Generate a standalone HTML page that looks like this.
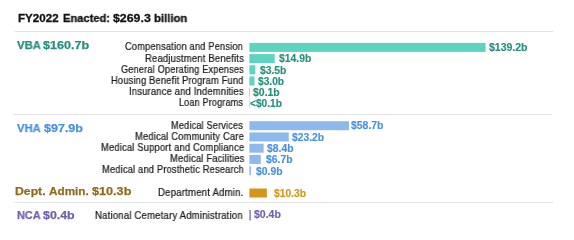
<!DOCTYPE html>
<html><head><meta charset="utf-8"><style>
html,body{margin:0;padding:0;background:#fff;}
body{width:574px;height:235px;position:relative;overflow:hidden;font-family:"Liberation Sans",sans-serif;}
.t{position:absolute;white-space:nowrap;transform-origin:0 0;will-change:transform;}
.r{position:absolute;}
</style></head><body>
<svg class="r" width="574" height="235" viewBox="0 0 574 235" style="left:0;top:0">
<rect x="14.60" y="31.00" width="538.60" height="1.00" fill="#e3e3e3"/>
<rect x="13.50" y="114.00" width="538.60" height="1.00" fill="#e3e3e3"/>
<rect x="14.60" y="202.00" width="538.60" height="1.00" fill="#e3e3e3"/>
<rect x="249.40" y="42.90" width="236.22" height="9.00" fill="#5ed3bf"/>
<rect x="249.40" y="54.10" width="25.29" height="9.00" fill="#5ed3bf"/>
<rect x="249.40" y="65.30" width="5.94" height="9.00" fill="#5ed3bf"/>
<rect x="249.40" y="76.50" width="5.09" height="9.00" fill="#5ed3bf"/>
<rect x="249.40" y="87.70" width="0.60" height="9.00" fill="#5ed3bf"/>
<rect x="249.40" y="98.90" width="0.40" height="9.00" fill="#5ed3bf"/>
<rect x="249.40" y="121.20" width="99.61" height="9.00" fill="#8fb9ec"/>
<rect x="249.40" y="132.45" width="39.37" height="9.00" fill="#8fb9ec"/>
<rect x="249.40" y="143.70" width="14.25" height="9.00" fill="#8fb9ec"/>
<rect x="249.40" y="154.95" width="11.37" height="9.00" fill="#8fb9ec"/>
<rect x="249.40" y="166.20" width="1.53" height="9.00" fill="#8fb9ec"/>
<rect x="249.40" y="188.50" width="17.48" height="9.00" fill="#d4961a"/>
<rect x="249.50" y="210.00" width="1.20" height="10.40" fill="#6c5cb0"/>
</svg>
<div id="e0" class="t" style="left:18.06px;top:10.98px;font-size:11.6px;line-height:14px;font-weight:700;color:#111111;transform:scaleX(0.9977);-webkit-text-stroke:0.3px #111111;">FY2022</div>
<div id="e1" class="t" style="left:62.86px;top:10.98px;font-size:11.6px;line-height:14px;font-weight:700;color:#111111;transform:scaleX(0.9612);-webkit-text-stroke:0.3px #111111;">Enacted:</div>
<div id="e2" class="t" style="left:112.67px;top:10.98px;font-size:11.6px;line-height:14px;font-weight:700;color:#111111;transform:scaleX(1.0644);-webkit-text-stroke:0.3px #111111;">$269.3</div>
<div id="e3" class="t" style="left:153.73px;top:10.98px;font-size:11.6px;line-height:14px;font-weight:700;color:#111111;transform:scaleX(0.9759);-webkit-text-stroke:0.3px #111111;">billion</div>
<div id="e4" class="t" style="left:16.54px;top:38.38px;font-size:11.6px;line-height:14px;font-weight:700;color:#268f7d;transform:scaleX(0.9789);-webkit-text-stroke:0.25px #268f7d;">VBA</div>
<div id="e5" class="t" style="left:43.30px;top:38.38px;font-size:11.6px;line-height:14px;font-weight:700;color:#268f7d;transform:scaleX(1.0836);-webkit-text-stroke:0.25px #268f7d;">$160.7b</div>
<div id="e6" class="t" style="left:16.76px;top:121.38px;font-size:11.6px;line-height:14px;font-weight:700;color:#4a90e0;transform:scaleX(0.9716);-webkit-text-stroke:0.25px #4a90e0;">VHA</div>
<div id="e7" class="t" style="left:44.11px;top:121.38px;font-size:11.6px;line-height:14px;font-weight:700;color:#4a90e0;transform:scaleX(1.0798);-webkit-text-stroke:0.25px #4a90e0;">$97.9b</div>
<div id="e8" class="t" style="left:14.83px;top:184.08px;font-size:11.6px;line-height:14px;font-weight:700;color:#8f6b1d;transform:scaleX(1.0552);-webkit-text-stroke:0.25px #8f6b1d;">Dept.</div>
<div id="e9" class="t" style="left:48.87px;top:184.08px;font-size:11.6px;line-height:14px;font-weight:700;color:#8f6b1d;transform:scaleX(1.0111);-webkit-text-stroke:0.25px #8f6b1d;">Admin.</div>
<div id="e10" class="t" style="left:91.89px;top:184.08px;font-size:11.6px;line-height:14px;font-weight:700;color:#8f6b1d;transform:scaleX(1.0903);-webkit-text-stroke:0.25px #8f6b1d;">$10.3b</div>
<div id="e11" class="t" style="left:16.54px;top:207.58px;font-size:11.6px;line-height:14px;font-weight:700;color:#6f60ae;transform:scaleX(0.9421);-webkit-text-stroke:0.25px #6f60ae;">NCA</div>
<div id="e12" class="t" style="left:43.33px;top:207.58px;font-size:11.6px;line-height:14px;font-weight:700;color:#6f60ae;transform:scaleX(1.0671);-webkit-text-stroke:0.25px #6f60ae;">$0.4b</div>
<div id="e13" class="t" style="left:125.33px;top:40.87px;font-size:10.2px;line-height:12px;color:#1a1a1a;transform:scaleX(0.9086);-webkit-text-stroke:0.22px #1a1a1a;letter-spacing:0.2px;">Compensation and Pension</div>
<div id="e14" class="t" style="left:488.85px;top:41.53px;font-size:10.0px;line-height:12px;font-weight:700;color:#268f7d;transform:scaleX(1.0502);-webkit-text-stroke:0.15px #268f7d;">$139.2b</div>
<div id="e15" class="t" style="left:145.28px;top:53.47px;font-size:10.2px;line-height:12px;color:#1a1a1a;transform:scaleX(0.9280);-webkit-text-stroke:0.22px #1a1a1a;letter-spacing:0.2px;">Readjustment Benefits</div>
<div id="e16" class="t" style="left:278.87px;top:52.53px;font-size:10.0px;line-height:12px;font-weight:700;color:#268f7d;transform:scaleX(1.0344);-webkit-text-stroke:0.15px #268f7d;">$14.9b</div>
<div id="e17" class="t" style="left:121.33px;top:64.47px;font-size:10.2px;line-height:12px;color:#1a1a1a;transform:scaleX(0.8998);-webkit-text-stroke:0.22px #1a1a1a;letter-spacing:0.2px;">General Operating Expenses</div>
<div id="e18" class="t" style="left:260.08px;top:64.53px;font-size:10.0px;line-height:12px;font-weight:700;color:#268f7d;transform:scaleX(1.0338);-webkit-text-stroke:0.15px #268f7d;">$3.5b</div>
<div id="e19" class="t" style="left:110.88px;top:75.47px;font-size:10.2px;line-height:12px;color:#1a1a1a;transform:scaleX(0.9114);-webkit-text-stroke:0.22px #1a1a1a;letter-spacing:0.2px;">Housing Benefit Program Fund</div>
<div id="e20" class="t" style="left:258.09px;top:75.53px;font-size:10.0px;line-height:12px;font-weight:700;color:#268f7d;transform:scaleX(1.0169);-webkit-text-stroke:0.15px #268f7d;">$3.0b</div>
<div id="e21" class="t" style="left:129.33px;top:86.47px;font-size:10.2px;line-height:12px;color:#1a1a1a;transform:scaleX(0.9224);-webkit-text-stroke:0.22px #1a1a1a;letter-spacing:0.2px;">Insurance and Indemnities</div>
<div id="e22" class="t" style="left:252.85px;top:86.53px;font-size:10.0px;line-height:12px;font-weight:700;color:#268f7d;transform:scaleX(1.0457);-webkit-text-stroke:0.15px #268f7d;">$0.1b</div>
<div id="e23" class="t" style="left:179.46px;top:97.47px;font-size:10.2px;line-height:12px;color:#1a1a1a;transform:scaleX(0.8864);-webkit-text-stroke:0.22px #1a1a1a;letter-spacing:0.2px;">Loan Programs</div>
<div id="e24" class="t" style="left:249.72px;top:97.53px;font-size:10.0px;line-height:12px;font-weight:700;color:#268f7d;transform:scaleX(1.0152);-webkit-text-stroke:0.15px #268f7d;">&lt;$0.1b</div>
<div id="e25" class="t" style="left:171.24px;top:120.47px;font-size:10.2px;line-height:12px;color:#1a1a1a;transform:scaleX(0.8976);-webkit-text-stroke:0.22px #1a1a1a;letter-spacing:0.2px;">Medical Services</div>
<div id="e26" class="t" style="left:350.51px;top:119.53px;font-size:10.0px;line-height:12px;font-weight:700;color:#4a90e0;transform:scaleX(1.0426);-webkit-text-stroke:0.15px #4a90e0;">$58.7b</div>
<div id="e27" class="t" style="left:134.69px;top:131.47px;font-size:10.2px;line-height:12px;color:#1a1a1a;transform:scaleX(0.9172);-webkit-text-stroke:0.22px #1a1a1a;letter-spacing:0.2px;">Medical Community Care</div>
<div id="e28" class="t" style="left:291.94px;top:131.53px;font-size:10.0px;line-height:12px;font-weight:700;color:#4a90e0;transform:scaleX(1.0287);-webkit-text-stroke:0.15px #4a90e0;">$23.2b</div>
<div id="e29" class="t" style="left:100.54px;top:142.47px;font-size:10.2px;line-height:12px;color:#1a1a1a;transform:scaleX(0.9180);-webkit-text-stroke:0.22px #1a1a1a;letter-spacing:0.2px;">Medical Support and Compliance</div>
<div id="e30" class="t" style="left:266.95px;top:142.53px;font-size:10.0px;line-height:12px;font-weight:700;color:#4a90e0;transform:scaleX(1.0348);-webkit-text-stroke:0.15px #4a90e0;">$8.4b</div>
<div id="e31" class="t" style="left:169.76px;top:153.47px;font-size:10.2px;line-height:12px;color:#1a1a1a;transform:scaleX(0.9189);-webkit-text-stroke:0.22px #1a1a1a;letter-spacing:0.2px;">Medical Facilities</div>
<div id="e32" class="t" style="left:265.55px;top:153.53px;font-size:10.0px;line-height:12px;font-weight:700;color:#4a90e0;transform:scaleX(1.0371);-webkit-text-stroke:0.15px #4a90e0;">$6.7b</div>
<div id="e33" class="t" style="left:101.76px;top:164.47px;font-size:10.2px;line-height:12px;color:#1a1a1a;transform:scaleX(0.9117);-webkit-text-stroke:0.22px #1a1a1a;letter-spacing:0.2px;">Medical and Prosthetic Research</div>
<div id="e34" class="t" style="left:255.95px;top:165.53px;font-size:10.0px;line-height:12px;font-weight:700;color:#4a90e0;transform:scaleX(1.0371);-webkit-text-stroke:0.15px #4a90e0;">$0.9b</div>
<div id="e35" class="t" style="left:157.95px;top:187.47px;font-size:10.2px;line-height:12px;color:#1a1a1a;transform:scaleX(0.9437);-webkit-text-stroke:0.22px #1a1a1a;letter-spacing:0.2px;">Department Admin.</div>
<div id="e36" class="t" style="left:274.35px;top:187.53px;font-size:10.0px;line-height:12px;font-weight:700;color:#d4961a;transform:scaleX(1.0243);-webkit-text-stroke:0.15px #d4961a;">$10.3b</div>
<div id="e37" class="t" style="left:95.43px;top:210.47px;font-size:10.2px;line-height:12px;color:#1a1a1a;transform:scaleX(0.9381);-webkit-text-stroke:0.22px #1a1a1a;letter-spacing:0.2px;">National Cemetary Administration</div>
<div id="e38" class="t" style="left:253.82px;top:208.53px;font-size:10.0px;line-height:12px;font-weight:700;color:#6f60ae;transform:scaleX(1.0497);-webkit-text-stroke:0.15px #6f60ae;">$0.4b</div>
</body></html>
